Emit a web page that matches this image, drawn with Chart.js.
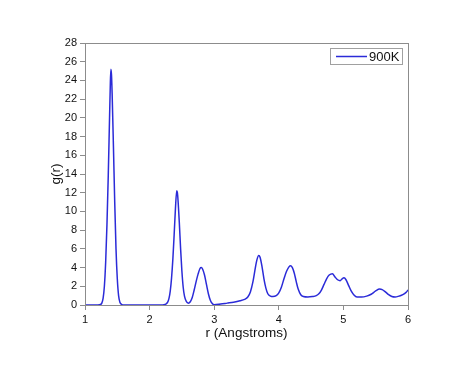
<!DOCTYPE html>
<html>
<head>
<meta charset="utf-8">
<script src="https://cdn.jsdelivr.net/npm/chart.js@4.4.0/dist/chart.umd.min.js"></script>
<style>
  body { margin: 0; background: #fff; }
  canvas { display: block; }
</style>
</head>
<body>
<canvas id="rdf-chart" width="474" height="366"></canvas>
<script>
// radial distribution function
var seriesLabel = '900K';
var rVals = [1.00, 1.20, 1.24, 1.26, 1.28, 1.30, 1.32, 1.34, 1.36, 1.38, 1.39, 1.40, 1.41, 1.42, 1.44, 1.46, 1.48, 1.50, 1.52, 1.54, 1.57, 1.60,
  2.20, 2.24, 2.28, 2.30, 2.32, 2.34, 2.36, 2.38, 2.40, 2.42, 2.43, 2.44, 2.46, 2.48, 2.50, 2.52, 2.54, 2.57, 2.60,
  2.63, 2.66, 2.69, 2.72, 2.75, 2.78, 2.80, 2.82, 2.85, 2.88, 2.91, 2.94, 2.97, 3.00,
  3.10, 3.20, 3.30, 3.40, 3.47, 3.52, 3.56, 3.60, 3.63, 3.66, 3.69, 3.71, 3.74, 3.77, 3.80, 3.83, 3.87, 3.91, 3.96,
  4.00, 4.04, 4.08, 4.12, 4.16, 4.18, 4.21, 4.24, 4.27, 4.30, 4.34, 4.38, 4.45, 4.52, 4.58,
  4.62, 4.66, 4.70, 4.74, 4.78, 4.83, 4.87, 4.91, 4.95, 4.98, 5.01, 5.04, 5.08, 5.12, 5.16, 5.21,
  5.28, 5.36, 5.43, 5.50, 5.56, 5.60, 5.65, 5.70, 5.75, 5.80, 5.86, 5.92, 5.97, 6.00];
var gVals = [0, 0, 0.05, 0.2, 0.7, 2.0, 4.6, 8.6, 13.8, 20.0, 23.0, 25.2, 24.6, 22.6, 17.0, 11.0, 6.0, 2.8, 1.0, 0.3, 0.05, 0,
  0, 0.05, 0.3, 0.7, 1.5, 2.9, 4.9, 7.5, 10.3, 12.2, 12.0, 11.2, 8.8, 6.0, 3.6, 1.9, 0.95, 0.35, 0.2,
  0.35, 0.8, 1.6, 2.5, 3.3, 3.9, 4.0, 3.85, 3.2, 2.2, 1.2, 0.5, 0.15, 0.02,
  0.1, 0.2, 0.3, 0.45, 0.6, 0.85, 1.4, 2.5, 3.7, 4.8, 5.3, 5.1, 4.1, 2.8, 1.8, 1.2, 0.95, 0.9, 1.0,
  1.3, 1.9, 2.8, 3.6, 4.1, 4.2, 4.0, 3.4, 2.5, 1.7, 1.1, 0.9, 0.85, 0.9, 1.0,
  1.2, 1.6, 2.2, 2.8, 3.2, 3.35, 3.0, 2.7, 2.6, 2.8, 2.9, 2.7, 2.1, 1.5, 1.1, 0.85,
  0.85, 0.95, 1.15, 1.5, 1.7, 1.65, 1.4, 1.1, 0.9, 0.85, 0.95, 1.1, 1.35, 1.6];
var xTicks = [1, 2, 3, 4, 5, 6];
var yTicks = [0, 2, 4, 6, 8, 10, 12, 14, 16, 18, 20, 22, 24, 26, 28];

var lineColor = '#2b2bd8';
var frameColor = '#8c8c8c';

var points = rVals.map(function (r, i) { return { x: r, y: gVals[i] }; });

// box round the plot + the boxed legend in the corner
var framePlugin = {
  id: 'frame',
  afterDraw: function (chart) {
    var ctx = chart.ctx, a = chart.chartArea;
    ctx.save();
    ctx.strokeStyle = frameColor;
    ctx.lineWidth = 1;
    ctx.strokeRect(Math.round(a.left) + 0.5, Math.round(a.top) + 0.5,
      Math.round(a.right - a.left), Math.round(a.bottom - a.top));

    // legend
    var bx = a.right - 78, by = a.top + 5, bw = 72, bh = 16;
    ctx.strokeStyle = '#a0a0a0';
    ctx.strokeRect(bx + 0.5, by + 0.5, bw, bh);
    ctx.strokeStyle = lineColor;
    ctx.lineWidth = 1.5;
    ctx.beginPath();
    ctx.moveTo(bx + 6, by + 8.5);
    ctx.lineTo(bx + 37, by + 8.5);
    ctx.stroke();
    ctx.fillStyle = '#111';
    ctx.font = '13px "Liberation Sans", Arial, sans-serif';
    ctx.textBaseline = 'middle';
    ctx.fillText(chart.data.datasets[0].label, bx + 39, by + 9);
    ctx.restore();
  }
};

var ctx = document.getElementById('rdf-chart');
var chart = new Chart(ctx, {
  type: 'line',
  data: {
    datasets: [{
      label: seriesLabel,
      data: points,
      borderColor: lineColor,
      borderWidth: 1.5,
      pointRadius: 0,
      fill: false,
      cubicInterpolationMode: 'monotone'
    }]
  },
  options: {
    responsive: false,
    animation: false,
    layout: { padding: { top: 43, right: 66, left: 0, bottom: 0 } },
    plugins: { legend: { display: false }, tooltip: { enabled: false } },
    scales: {
      x: {
        type: 'linear',
        min: 1, max: 6,
        afterFit: function (s) { s.height = 61; },
        afterBuildTicks: function (s) { s.ticks = xTicks.map(function (v) { return { value: v }; }); },
        grid: { drawOnChartArea: false, tickLength: 5, color: frameColor },
        border: { display: false },
        ticks: { color: '#111', padding: 3, font: { family: '"Liberation Sans", Arial, sans-serif', size: 11 } },
        title: { display: true, text: 'r (Angstroms)', color: '#111', padding: { top: 0, bottom: 25 },
          font: { family: '"Liberation Sans", Arial, sans-serif', size: 13.5 } }
      },
      y: {
        min: 0, max: 28,
        afterFit: function (s) { s.width = 85; },
        afterBuildTicks: function (s) { s.ticks = yTicks.map(function (v) { return { value: v }; }); },
        grid: { drawOnChartArea: false, tickLength: 5, color: frameColor },
        border: { display: false },
        ticks: { color: '#111', padding: 3, font: { family: '"Liberation Sans", Arial, sans-serif', size: 11 } },
        title: { display: true, text: 'g(r)', color: '#111', padding: { top: 48, bottom: 0 },
          font: { family: '"Liberation Sans", Arial, sans-serif', size: 13.5 } }
      }
    }
  },
  plugins: [framePlugin]
});
</script>
</body>
</html>
